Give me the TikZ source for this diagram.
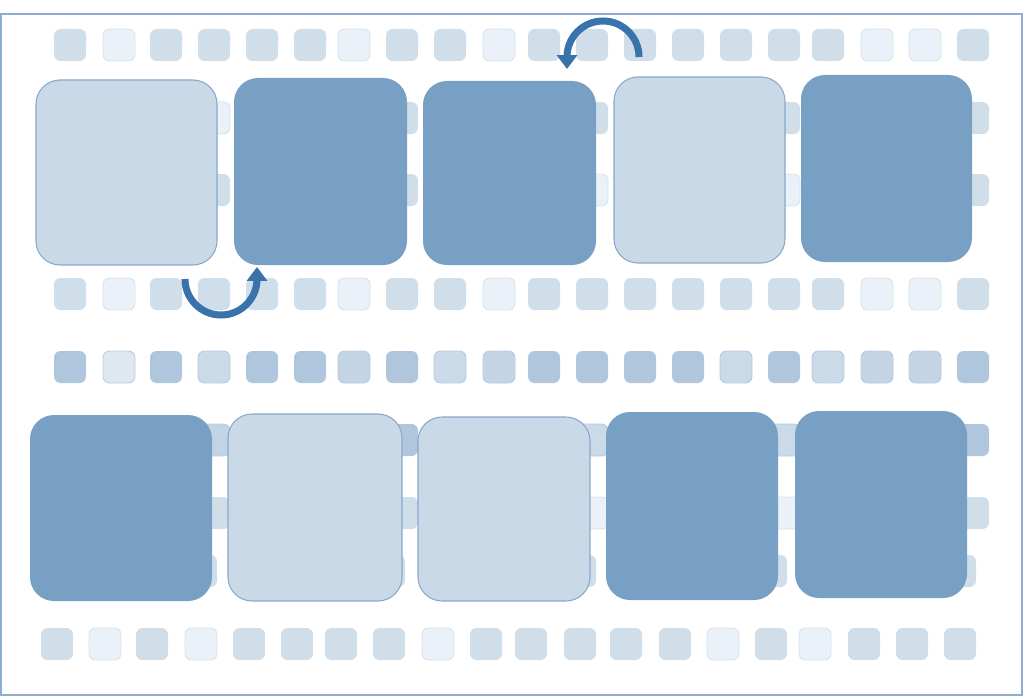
\documentclass[tikz,border=0pt]{standalone}
\usetikzlibrary{arrows.meta}
\definecolor{holemedc}{HTML}{D0DEEA}
\definecolor{holepalec}{HTML}{EBF1F8}
\definecolor{holepaleb}{HTML}{D6E2EE}
\definecolor{holedarkc}{HTML}{B0C6DC}
\definecolor{holemidc}{HTML}{C3D4E4}
\definecolor{holemidb}{HTML}{B8CBDF}
\definecolor{holesoftc}{HTML}{CBDAE8}
\definecolor{holesoftb}{HTML}{B5C9DE}
\definecolor{holefrostc}{HTML}{DFE8F1}
\definecolor{holefrostb}{HTML}{B9CCE0}
\definecolor{framelightc}{HTML}{C9D9E8}
\definecolor{framelightb}{HTML}{87A8CB}
\definecolor{framedarkc}{HTML}{789FC4}
\definecolor{swapc}{HTML}{3A72AA}
\definecolor{borderc}{HTML}{8EADD1}
\tikzset{
	hole/.style={rounded corners=1.3mm, line width=0.5pt},
	holemed/.style={hole, fill=holemedc},
	holepale/.style={hole, fill=holepalec, draw=holepaleb},
	holedark/.style={hole, fill=holedarkc},
	holemid/.style={hole, fill=holemidc, draw=holemidb},
	holesoft/.style={hole, fill=holesoftc, draw=holesoftb},
	holefrost/.style={hole, fill=holefrostc, draw=holefrostb},
	framelight/.style={rounded corners=4.8mm, fill=framelightc, draw=framelightb, line width=0.6pt},
	framedark/.style={rounded corners=4.8mm, fill=framedarkc},
	swap/.style={draw=swapc, line width=4pt, -{Triangle[width=4mm, length=2.8mm]}}
}
\begin{document}
\begin{tikzpicture}[x=0.02cm, y=-0.02cm]
		\useasboundingbox (0,0) rectangle (1024,696);
		\draw[borderc, line width=0.8pt] (1,14) rectangle (1022,695);
		\begin{scope}
		\foreach \x/\s in {54/holemed,103/holepale,150/holemed,198/holemed,246/holemed,294/holemed,338/holepale,386/holemed,434/holemed,483/holepale,528/holemed,576/holemed,624/holemed,672/holemed,720/holemed,768/holemed,812/holemed,861/holepale,909/holepale,957/holemed}
		{
			\path[\s] (\x,29) rectangle ++(32,32);
			\path[\s] (\x,278) rectangle ++(32,32);
		}
		\foreach \x/\s in {198/holepale,386/holemed,576/holemed,768/holemed,957/holemed}
		{
			\path[\s] (\x,102) rectangle ++(32,32);
		}
		\foreach \x/\s in {198/holemed,386/holemed,576/holepale,768/holepale,957/holemed}
		{
			\path[\s] (\x,174) rectangle ++(32,32);
		}
		\path[framelight] (36,80) rectangle (217,265);
		\path[framedark] (234,78) rectangle (407,265);
		\path[framedark] (423,81) rectangle (596,265);
		\path[framelight] (614,77) rectangle (785,263);
		\path[framedark] (801,75) rectangle (972,262);
		\end{scope}
		\begin{scope}
		\foreach \x/\s in {54/holedark,103/holefrost,150/holedark,198/holesoft,246/holedark,294/holedark,338/holemid,386/holedark,434/holesoft,483/holemid,528/holedark,576/holedark,624/holedark,672/holedark,720/holesoft,768/holedark,812/holesoft,861/holemid,909/holemid,957/holedark}
		{
			\path[\s] (\x,351) rectangle ++(32,32);
		}
		\foreach \x/\s in {198/holemid,386/holedark,576/holesoft,768/holesoft,957/holedark}
		{
			\path[\s] (\x,424) rectangle ++(32,32);
		}
		\foreach \x/\s in {198/holemed,386/holemed,576/holepale,768/holepale,957/holemed}
		{
			\path[\s] (\x,497) rectangle ++(32,32);
		}
		\foreach \x in {185,373,564,755,944}
		{
			\path[holemed] (\x,555) rectangle ++(32,32);
		}
		\foreach \x/\s in {41/holemed,89/holepale,136/holemed,185/holepale,233/holemed,281/holemed,325/holemed,373/holemed,422/holepale,470/holemed,515/holemed,564/holemed,610/holemed,659/holemed,707/holepale,755/holemed,799/holepale,848/holemed,896/holemed,944/holemed}
		{
			\path[\s] (\x,628) rectangle ++(32,32);
		}
		\path[framedark] (30,415) rectangle (212,601);
		\path[framelight] (228,414) rectangle (402,601);
		\path[framelight] (418,417) rectangle (590,601);
		\path[framedark] (606,412) rectangle (778,600);
		\path[framedark] (795,411) rectangle (967,598);
		\end{scope}
		\coordinate (swaplow) at (185,279);
		\coordinate (swaphigh) at (639,57);
		\draw[swap] (swaplow) arc[start angle=180, end angle=0, radius=36] -- ++(0,-12);
		\draw[swap] (swaphigh) arc[start angle=0, end angle=-180, radius=36] -- ++(0,12);
\end{tikzpicture}
\end{document}
